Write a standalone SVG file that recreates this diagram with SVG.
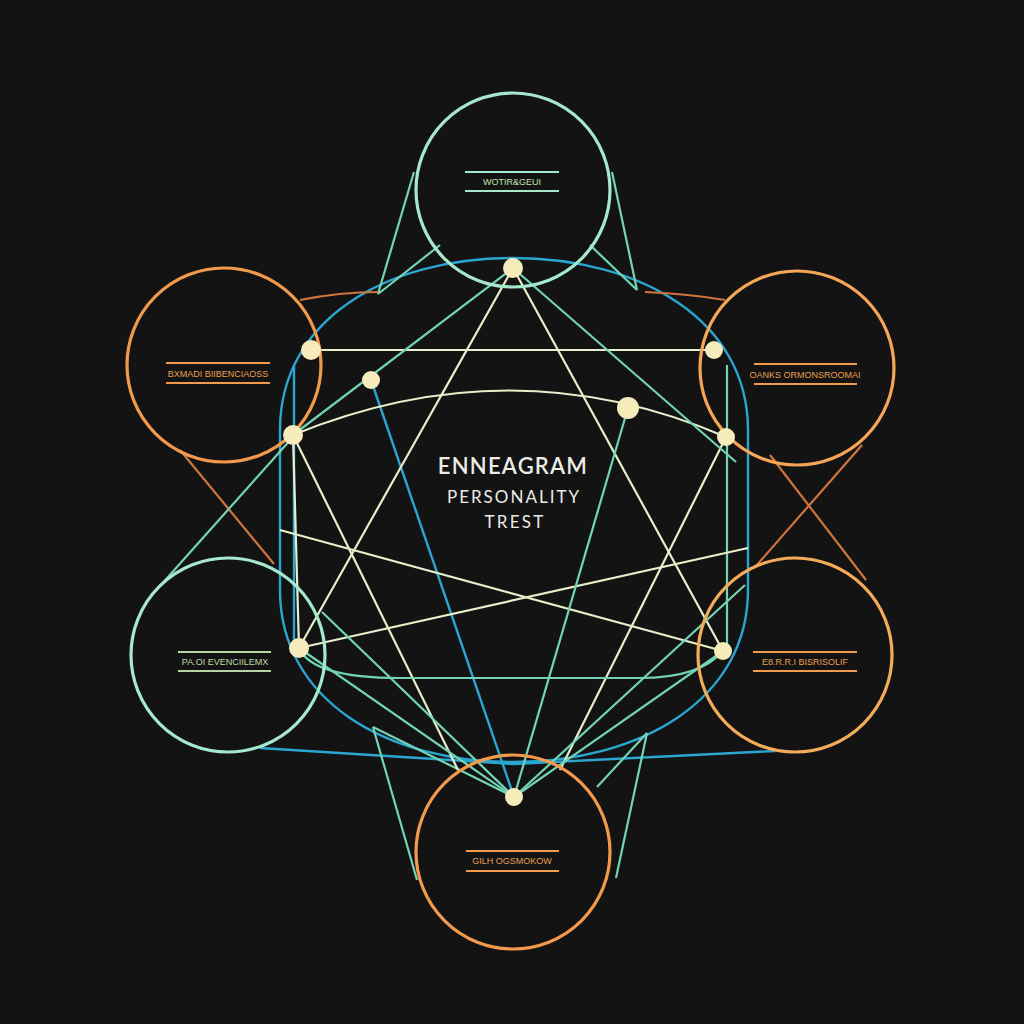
<svg xmlns="http://www.w3.org/2000/svg" width="1024" height="1024" viewBox="0 0 1024 1024">
<style>
.bg{fill:#131313}
.ring{fill:none;stroke-width:3.2}
.mint{stroke:#a6e8cc}
.orng{stroke:#f29a4c}
.blue{fill:none;stroke:#2aa6d0;stroke-width:2.4}
.cream{fill:none;stroke:#e6efca;stroke-width:2.2}
.teal{fill:none;stroke:#72d4b4;stroke-width:2.2}
.rust{fill:none;stroke:#d0743e;stroke-width:2.2}
.dot{fill:#f6ebbb}
.rule{stroke-width:2}
.lbl{font-family:"Liberation Sans",Arial,sans-serif;font-size:9px;text-anchor:middle}
.title{font-family:"Lato","Open Sans",sans-serif;fill:#ecece6;text-anchor:middle}
</style>
<rect class="bg" x="0" y="0" width="1024" height="1024"/>

<g id="connectors">
  <!-- blue rounded frame -->
  <path class="blue" d="M513,258 C640,258 748,320 748,430 L748,590 C748,700 640,762 513,762 C386,762 280,700 280,590 L280,430 C280,320 386,258 513,258 Z"/>
  <line class="blue" x1="294" y1="365" x2="294" y2="648"/>
  <line class="teal" x1="727" y1="365" x2="727" y2="651"/>
  <polyline class="blue" points="260,748 513,764 775,751"/>
  <line class="blue" x1="371" y1="380" x2="514" y2="797"/>

  <!-- top circle tangents -->
  <line class="teal" x1="414" y1="172" x2="378" y2="294"/>
  <line class="teal" x1="440" y1="245" x2="378" y2="294"/>
  <line class="teal" x1="612" y1="172" x2="637" y2="290"/>
  <line class="teal" x1="590" y1="245" x2="637" y2="290"/>
  <!-- bottom circle tangents -->
  <line class="teal" x1="373" y1="727" x2="417" y2="880"/>
  <line class="teal" x1="373" y1="727" x2="514" y2="797"/>
  <line class="teal" x1="647" y1="733" x2="616" y2="878"/>
  <line class="teal" x1="647" y1="733" x2="597" y2="787"/>

  <!-- orange links -->
  <path class="rust" d="M300,300 Q340,292 378,292"/>
  <path class="rust" d="M645,292 Q690,294 725,300"/>
  <line class="rust" x1="180" y1="450" x2="274" y2="564"/>
  <line class="rust" x1="862" y1="445" x2="756" y2="566"/>
  <line class="rust" x1="770" y1="455" x2="866" y2="580"/>
  <line class="teal" x1="293" y1="437" x2="160" y2="586"/>

  <!-- inner figure -->
  <line class="cream" x1="311" y1="350" x2="714" y2="350"/>
  <path class="cream" d="M293,435 Q513,345 726,437"/>
  <line class="cream" x1="513" y1="268" x2="299" y2="648"/>
  <line class="cream" x1="513" y1="268" x2="723" y2="651"/>
  <line class="cream" x1="299" y1="648" x2="748" y2="548"/>
  <line class="cream" x1="280" y1="530" x2="723" y2="651"/>
  <line class="cream" x1="293" y1="435" x2="299" y2="648"/>
  <line class="cream" x1="293" y1="435" x2="458" y2="770"/>
  <line class="cream" x1="726" y1="437" x2="560" y2="770"/>
  <line class="teal" x1="513" y1="268" x2="293" y2="435"/>
  <line class="teal" x1="513" y1="268" x2="736" y2="462"/>
  <line class="teal" x1="628" y1="408" x2="514" y2="797"/>
  <path class="teal" d="M299,648 Q312,678 400,678 L640,678 Q700,678 723,651"/>
  <line class="teal" x1="299" y1="648" x2="514" y2="797"/>
  <line class="teal" x1="322" y1="612" x2="514" y2="797"/>
  <line class="teal" x1="723" y1="651" x2="514" y2="797"/>
  <line class="teal" x1="745" y1="585" x2="514" y2="797"/>
</g>

<g id="node-top">
  <circle class="ring mint" cx="513" cy="190" r="97"/>
  <line class="rule mint" x1="465" y1="172" x2="559" y2="172"/>
  <line class="rule mint" x1="465" y1="191" x2="559" y2="191"/>
  <text class="lbl" x="512" y="185" fill="#c4e4b4">WOTIR&amp;GEUI</text>
</g>
<g id="node-upper-left">
  <circle class="ring orng" cx="224" cy="365" r="97"/>
  <line class="rule orng" x1="166" y1="363" x2="270" y2="363"/>
  <line class="rule orng" x1="166" y1="383" x2="270" y2="383"/>
  <text class="lbl" x="218" y="377" fill="#e8a050">BXMADI BIIBENCIAOSS</text>
</g>
<g id="node-upper-right">
  <circle class="ring orng" cx="797" cy="368" r="97" style="stroke:#f4a656"/>
  <line class="rule orng" x1="754" y1="364" x2="857" y2="364"/>
  <line class="rule orng" x1="754" y1="384" x2="857" y2="384"/>
  <text class="lbl" x="805" y="378" fill="#e8a050">OANKS ORMONSROOMAI</text>
</g>
<g id="node-lower-left">
  <circle class="ring mint" cx="228" cy="655" r="97"/>
  <line class="rule" stroke="#b8d4a4" x1="178" y1="652" x2="271" y2="652"/>
  <line class="rule" stroke="#b8d4a4" x1="178" y1="671" x2="271" y2="671"/>
  <text class="lbl" x="225" y="665" fill="#c4dca8">PA.OI EVENCIILEMX</text>
</g>
<g id="node-lower-right">
  <circle class="ring orng" cx="795" cy="655" r="97" style="stroke:#f4ac5a"/>
  <line class="rule orng" x1="753" y1="652" x2="857" y2="652"/>
  <line class="rule orng" x1="753" y1="671" x2="857" y2="671"/>
  <text class="lbl" x="805" y="665" fill="#e8a050">E8.R.R.I BISRISOLIF</text>
</g>
<g id="node-bottom">
  <circle class="ring orng" cx="513" cy="852" r="97"/>
  <line class="rule orng" x1="466" y1="851" x2="559" y2="851"/>
  <line class="rule orng" x1="466" y1="871" x2="559" y2="871"/>
  <text class="lbl" x="512" y="864" fill="#e8a050">GILH OGSMOKOW</text>
</g>

<g id="dots">
  <circle class="dot" cx="513" cy="268" r="10"/>
  <circle class="dot" cx="311" cy="350" r="10"/>
  <circle class="dot" cx="371" cy="380" r="9"/>
  <circle class="dot" cx="714" cy="350" r="9"/>
  <circle class="dot" cx="628" cy="408" r="11"/>
  <circle class="dot" cx="293" cy="435" r="10"/>
  <circle class="dot" cx="726" cy="437" r="9"/>
  <circle class="dot" cx="299" cy="648" r="10"/>
  <circle class="dot" cx="723" cy="651" r="9"/>
  <circle class="dot" cx="514" cy="797" r="9"/>
</g>

<g id="center-title">
  <text class="title" x="513" y="474" font-size="22" font-weight="600" letter-spacing="1.2">ENNEAGRAM</text>
  <text class="title" x="514" y="503" font-size="17" letter-spacing="2">PERSONALITY</text>
  <text class="title" x="515" y="528" font-size="17" letter-spacing="2.2">TREST</text>
</g>
</svg>
